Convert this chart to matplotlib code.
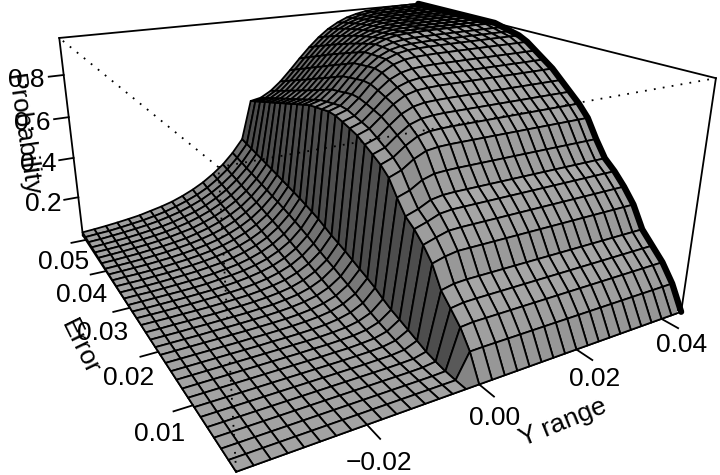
import numpy as np
import matplotlib
matplotlib.use("Agg")
import matplotlib.pyplot as plt
from matplotlib.transforms import offset_copy
from mpl_toolkits.mplot3d import proj3d

y_range = np.round(np.arange(35) * 0.0025 - 0.04, 4)
error = np.linspace(0.0, 0.0516, 33)
probability = np.array([
    [0]*35,
    [0]*16 + [0.099] + [0.100]*18,
    [0]*15 + [0.002] + [0.165] + [0.170]*18,
    [0]*14 + [0.001, 0.008] + [0.211, 0.219] + [0.220]*17,
    [0]*13 + [0.001, 0.003, 0.016] + [0.255, 0.267] + [0.270]*17,
    [0]*12 + [0.001, 0.002, 0.008, 0.030] + [0.336, 0.351] + [0.360]*17,
    [0]*11 + [0.001, 0.002, 0.005, 0.015, 0.044] + [0.386, 0.403, 0.418] + [0.420]*16,
    [0]*10 + [0.001, 0.001, 0.004, 0.009, 0.023, 0.058] + [0.426, 0.443, 0.464] + [0.470]*16,
    [0]*9 + [0.001, 0.001, 0.003, 0.006, 0.014, 0.032, 0.071] + [0.455, 0.473, 0.499, 0.508] + [0.510]*15,
    [0]*8 + [0.001, 0.001, 0.002, 0.005, 0.010, 0.021, 0.043, 0.089] + [0.510, 0.528, 0.560, 0.576, 0.579] + [0.580]*14,
    [0]*7 + [0.001, 0.001, 0.002, 0.004, 0.008, 0.016, 0.030, 0.057, 0.110] + [0.571, 0.591, 0.627, 0.651, 0.658] + [0.660]*14,
    [0]*6 + [0.001, 0.001, 0.002, 0.004, 0.007, 0.012, 0.021, 0.039, 0.070, 0.126] + [0.605, 0.625, 0.664, 0.694, 0.706, 0.709] + [0.710]*13,
    [0]*5 + [0.001, 0.001, 0.002, 0.003, 0.005, 0.009, 0.016, 0.028, 0.047, 0.082, 0.140] + [0.629, 0.648, 0.690, 0.725, 0.742, 0.748] + [0.750]*13,
    [0]*4 + [0.001, 0.001, 0.002, 0.003, 0.005, 0.008, 0.013, 0.021, 0.034, 0.057, 0.094, 0.155] + [0.652, 0.671, 0.714, 0.754, 0.777, 0.787, 0.789] + [0.790]*12,
    [0]*3 + [0.001, 0.001, 0.002, 0.003, 0.004, 0.007, 0.010, 0.017, 0.026, 0.042, 0.067, 0.107, 0.170] + [0.674, 0.693, 0.736, 0.780, 0.810, 0.824, 0.828] + [0.830]*12,
    [0]*2 + [0.001, 0.001, 0.002, 0.002, 0.004, 0.006, 0.009, 0.014, 0.021, 0.032, 0.050, 0.077, 0.118, 0.183] + [0.687, 0.705, 0.749, 0.796, 0.831, 0.849, 0.857, 0.859] + [0.860]*11,
    [0.001, 0.001, 0.001, 0.002, 0.002, 0.003, 0.005, 0.008, 0.011, 0.017, 0.026, 0.038, 0.058, 0.087, 0.130, 0.195] + [0.699, 0.716, 0.761, 0.811, 0.850, 0.873, 0.884, 0.888] + [0.890]*11,
    [0.001, 0.001, 0.001, 0.002, 0.003, 0.005, 0.007, 0.010, 0.014, 0.021, 0.031, 0.046, 0.067, 0.099, 0.144, 0.211] + [0.710, 0.727, 0.771, 0.824, 0.867, 0.896, 0.911, 0.917, 0.919] + [0.920]*10,
    [0.001, 0.001, 0.002, 0.003, 0.004, 0.006, 0.008, 0.012, 0.018, 0.026, 0.037, 0.053, 0.076, 0.109, 0.157, 0.226] + [0.713, 0.730, 0.773, 0.826, 0.874, 0.907, 0.926, 0.935, 0.938, 0.939] + [0.940]*9,
    [0.001, 0.002, 0.003, 0.004, 0.005, 0.007, 0.010, 0.016, 0.022, 0.030, 0.043, 0.060, 0.085, 0.119, 0.169, 0.238] + [0.707, 0.724, 0.766, 0.820, 0.870, 0.907, 0.930, 0.942, 0.947, 0.949] + [0.950]*9,
    [0.002, 0.003, 0.003, 0.005, 0.007, 0.010, 0.013, 0.018, 0.026, 0.035, 0.049, 0.068, 0.094, 0.130, 0.180, 0.249] + [0.702, 0.718, 0.759, 0.813, 0.865, 0.906, 0.933, 0.948, 0.955, 0.958, 0.959] + [0.960]*8,
    [0.002, 0.003, 0.004, 0.006, 0.009, 0.012, 0.016, 0.022, 0.029, 0.040, 0.055, 0.075, 0.102, 0.140, 0.191, 0.260] + [0.696, 0.711, 0.752, 0.806, 0.860, 0.904, 0.934, 0.953, 0.963, 0.967, 0.969] + [0.970]*8,
    [0.003, 0.004, 0.005, 0.008, 0.010, 0.014, 0.019, 0.025, 0.034, 0.046, 0.061, 0.082, 0.110, 0.149, 0.200, 0.269] + [0.683, 0.698, 0.737, 0.790, 0.844, 0.891, 0.925, 0.947, 0.960, 0.966, 0.968, 0.969] + [0.970]*7,
    [0.004, 0.006, 0.007, 0.009, 0.012, 0.017, 0.022, 0.029, 0.038, 0.051, 0.068, 0.090, 0.119, 0.157, 0.210, 0.278] + [0.670, 0.684, 0.722, 0.774, 0.829, 0.878, 0.915, 0.940, 0.955, 0.964, 0.967, 0.969] + [0.970]*7,
    [0.005, 0.007, 0.009, 0.011, 0.015, 0.019, 0.025, 0.033, 0.043, 0.056, 0.074, 0.097, 0.127, 0.167, 0.218, 0.287] + [0.657, 0.670, 0.707, 0.758, 0.814, 0.864, 0.904, 0.933, 0.951, 0.961, 0.966, 0.968, 0.969] + [0.970]*6,
    [0.006, 0.008, 0.010, 0.013, 0.017, 0.022, 0.029, 0.037, 0.048, 0.062, 0.080, 0.104, 0.136, 0.176, 0.228, 0.296] + [0.644, 0.657, 0.692, 0.743, 0.798, 0.850, 0.893, 0.924, 0.945, 0.957, 0.964, 0.967, 0.969] + [0.970]*6,
    [0.007, 0.009, 0.012, 0.015, 0.020, 0.025, 0.032, 0.040, 0.053, 0.068, 0.087, 0.112, 0.143, 0.185, 0.237, 0.305] + [0.631, 0.643, 0.678, 0.727, 0.782, 0.836, 0.880, 0.915, 0.938, 0.953, 0.962, 0.966, 0.968, 0.969] + [0.970]*5,
    [0.008, 0.011, 0.014, 0.018, 0.022, 0.028, 0.036, 0.046, 0.057, 0.074, 0.094, 0.120, 0.152, 0.193, 0.246, 0.313] + [0.618, 0.630, 0.663, 0.711, 0.767, 0.821, 0.868, 0.904, 0.931, 0.948, 0.959, 0.964, 0.967, 0.969] + [0.970]*5,
    [0.010, 0.012, 0.015, 0.020, 0.025, 0.031, 0.039, 0.050, 0.063, 0.080, 0.101, 0.127, 0.160, 0.202, 0.255, 0.322] + [0.605, 0.617, 0.649, 0.696, 0.751, 0.805, 0.854, 0.893, 0.923, 0.942, 0.955, 0.962, 0.966, 0.968, 0.969] + [0.970]*4,
    [0.011, 0.014, 0.018, 0.022, 0.028, 0.035, 0.043, 0.054, 0.069, 0.085, 0.107, 0.135, 0.168, 0.211, 0.263, 0.330] + [0.592, 0.603, 0.634, 0.681, 0.735, 0.790, 0.840, 0.882, 0.914, 0.936, 0.951, 0.960, 0.965, 0.967, 0.969] + [0.970]*4,
    [0.013, 0.016, 0.021, 0.026, 0.032, 0.039, 0.048, 0.060, 0.074, 0.093, 0.115, 0.143, 0.177, 0.219, 0.273, 0.339] + [0.579, 0.590, 0.620, 0.666, 0.719, 0.775, 0.826, 0.870, 0.904, 0.929, 0.946, 0.956, 0.963, 0.966, 0.968, 0.969] + [0.970]*3,
    [0.015, 0.019, 0.022, 0.028, 0.035, 0.042, 0.052, 0.064, 0.080, 0.099, 0.121, 0.149, 0.185, 0.228, 0.281, 0.347] + [0.566, 0.576, 0.606, 0.650, 0.704, 0.759, 0.812, 0.857, 0.894, 0.921, 0.940, 0.953, 0.961, 0.965, 0.968, 0.969] + [0.970]*3,
    [0.016, 0.020, 0.025, 0.031, 0.038, 0.046, 0.058, 0.070, 0.085, 0.105, 0.129, 0.158, 0.194, 0.236, 0.290, 0.356] + [0.553, 0.563, 0.592, 0.635, 0.688, 0.744, 0.797, 0.844, 0.883, 0.912, 0.934, 0.948, 0.958, 0.963, 0.967, 0.968, 0.969] + [0.970]*2,
], dtype=float)

x_ticks = [-0.02, 0.00, 0.02, 0.04]
x_tick_labels = ["\u22120.02", "0.00", "0.02", "0.04"]
e_ticks = [0.01, 0.02, 0.03, 0.04, 0.05]
e_tick_labels = ["0.01", "0.02", "0.03", "0.04", "0.05"]
z_ticks = [0.2, 0.4, 0.6, 0.8]
z_tick_labels = ["0.2", "0.4", "0.6", "0.8"]
x_title, e_title, z_title = "Y range", "Error", "Probability"

plt.rcParams['font.family'] = ['Liberation Sans', 'DejaVu Sans']
W, H = 720, 475
fig = plt.figure(figsize=(7.2, 4.75), dpi=100)
ax = fig.add_axes([13.817 / W, -33.506 / H, 663.245 / W, 663.245 / H], projection='3d')
ax.set_axis_off()
ax.computed_zorder = False
xmin, xmax = y_range[0], y_range[-1]
emin, emax = error[0], error[-1]
ztop = probability.max()
ax.set_xlim(xmin, xmax); ax.set_ylim(emin, emax); ax.set_zlim(0, ztop)

# perspective camera matching the reference view
box = (1.0, 1.0138, 0.5022)
ax.view_init(elev=19.969, azim=-119.687, roll=0)
ax.set_proj_type('persp', focal_length=0.2370)
ax.set_box_aspect(box)
M = ax.get_proj()

# ---- surface shading (style) ----
X, E = np.meshgrid(y_range, error)
Xn = (X - xmin) / (xmax - xmin) * box[0]
En = (E - emin) / (emax - emin) * box[1]
Zn = probability / ztop * box[2]
P = np.stack([Xn, En, Zn], axis=-1)
d1 = P[1:, 1:] - P[:-1, :-1]
d2 = P[:-1, 1:] - P[1:, :-1]
nrm = np.cross(d2, d1)
nrm /= np.linalg.norm(nrm, axis=-1, keepdims=True)
nrm[nrm[..., 2] < 0] *= -1
L = np.array([0.32, -0.35, 0.88]); L /= np.linalg.norm(L)
g = 0.30 + 0.386 * np.clip(nrm @ L, 0, 1)
fc = np.ones(X.shape + (4,))
fc[:-1, :-1, 0] = g; fc[:-1, :-1, 1] = g; fc[:-1, :-1, 2] = g

lwb = 1.3
def seg(a, b, **kw):
    ax.plot([a[0], b[0]], [a[1], b[1]], [a[2], b[2]], color='black', clip_on=False, **kw)

solid = [((xmin, emin, 0), (xmax, emin, 0)), ((xmin, emin, 0), (xmin, emax, 0)),
         ((xmin, emax, 0), (xmax, emax, 0)), ((xmax, emin, 0), (xmax, emax, 0)),
         ((xmin, emax, 0), (xmin, emax, ztop)), ((xmax, emin, 0), (xmax, emin, ztop)),
         ((xmax, emax, 0), (xmax, emax, ztop)),
         ((xmin, emax, ztop), (xmax, emax, ztop)), ((xmax, emin, ztop), (xmax, emax, ztop))]
for a, b in solid:
    seg(a, b, lw=lwb, zorder=1)

surf = ax.plot_surface(X, E, probability, facecolors=fc, shade=False, rstride=1, cstride=1,
                       antialiased=True, zorder=2)
surf.set_edgecolor('black')
surf.set_linewidth(1.3)

ax.plot([xmax] * len(error), error, probability[:, -1], color='black', lw=4.5, clip_on=False,
        solid_capstyle='round', solid_joinstyle='round', zorder=3)

dotted = [((xmin, emin, 0), (xmin, emin, ztop)), ((xmin, emin, ztop), (xmax, emin, ztop)),
          ((xmin, emin, ztop), (xmin, emax, ztop))]
for a, b in dotted:
    seg(a, b, lw=1.3, linestyle=(0, (1, 4)), zorder=4)

def shifted(dx, dy):
    return offset_copy(ax.transData, fig=fig, x=dx, y=dy, units='dots')

def label(pt, s, dx, dy, direction=None):
    px, py, _ = proj3d.proj_transform(*pt, M)
    rot = 0.0
    if direction is not None:
        q = np.asarray(pt, float) + np.asarray(direction, float)
        qx, qy, _ = proj3d.proj_transform(*q, M)
        rot = np.degrees(np.arctan2(qy - py, qx - px))
        if rot > 90: rot -= 180
        if rot <= -90: rot += 180
    ax.text2D(px, py, s, ha='center', va='center', fontsize=19, rotation=rot,
              zorder=5, transform=shifted(dx, dy))

xr_, er_ = xmax - xmin, emax - emin
for t, lab in zip(x_ticks, x_tick_labels):
    seg((t, emin, 0), (t, emin - 0.042 * er_, 0), lw=lwb, zorder=4)
    label((t, emin - 0.095 * er_, 0), lab, -19, -5)
for t, lab in zip(e_ticks, e_tick_labels):
    seg((xmin, t, 0), (xmin - 0.035 * xr_, t, 0), lw=lwb, zorder=4)
    label((xmin - 0.075 * xr_, t, 0), lab, 9, -16)
for t, lab in zip(z_ticks, z_tick_labels):
    seg((xmin, emax, t), (xmin - 0.034 * xr_, emax, t), lw=lwb, zorder=4)
    label((xmin - 0.093 * xr_, emax, t), lab, 4, 0)

label((0.0102, emin - 0.15 * er_, 0), x_title, -26, -14, direction=(0.01 * xr_, 0, 0))
label((xmin - 0.13 * xr_, 0.03, 0), e_title, 13, -24, direction=(0, 0.01 * er_, 0))
label((xmin - 0.135 * xr_, emax, 0.52 * ztop), z_title, 10, 10, direction=(0, 0, 0.01 * ztop))

fig.savefig("out.png", dpi=100)
